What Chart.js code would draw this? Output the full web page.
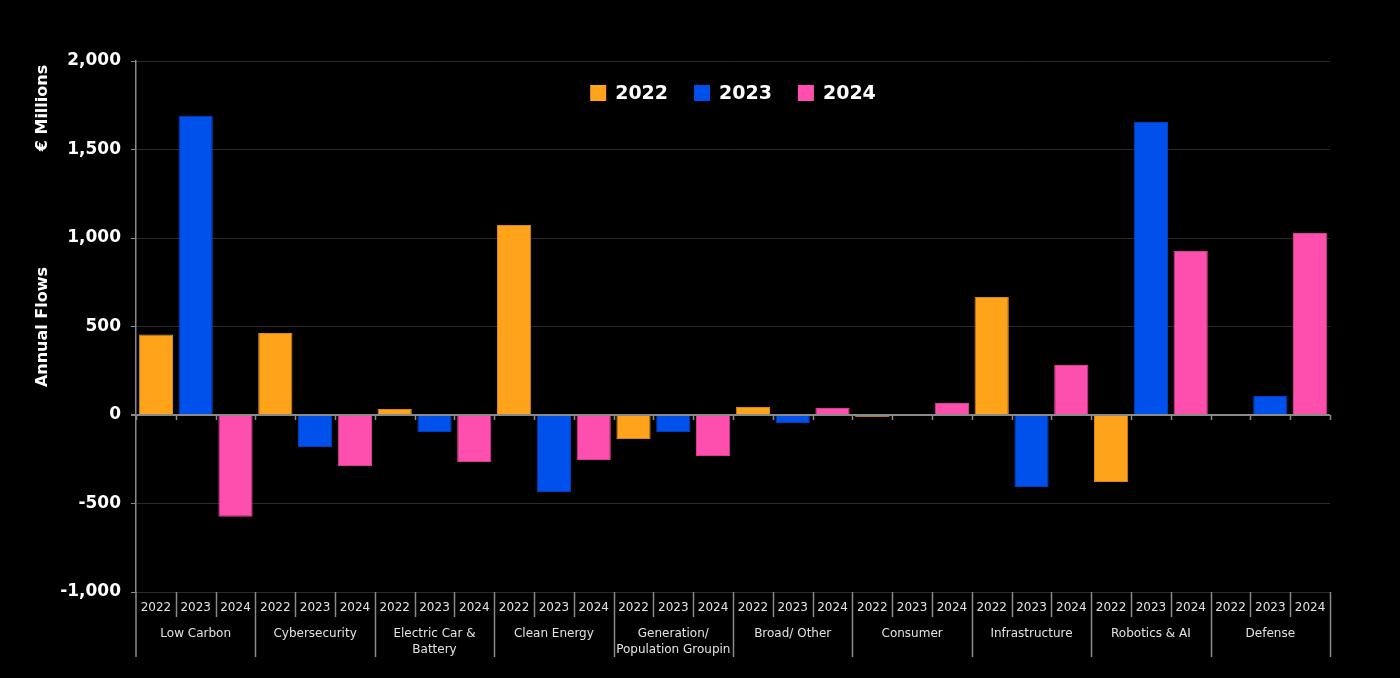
<!DOCTYPE html>
<html>
<head>
<meta charset="utf-8">
<script src="https://cdn.jsdelivr.net/npm/chart.js@4.4.1/dist/chart.umd.min.js"></script>
<style>
  html, body { margin: 0; padding: 0; background: #000; }
  canvas { display: block; }
</style>
</head>
<body>
<canvas id="flowsChart" width="1400" height="678"></canvas>
<script>
// categories and years
const groups = ['Low Carbon', 'Cybersecurity', ['Electric Car &', 'Battery'], 'Clean Energy',
    ['Generation/', 'Population Groupin'], 'Broad/ Other', 'Consumer', 'Infrastructure',
    'Robotics & AI', 'Defense'];
const years = ['2022', '2023', '2024'];

// annual flows, EUR millions, one value per group
const flows2022 = [455, 463, 34, 1073, -136, 45, -12, 667, -378, null];
const flows2023 = [1690, -181, -96, -435, -96, -45, 0, -407, 1655, 107];
const flows2024 = [-575, -288, -266, -254, -232, 40, 68, 282, 927, 1028];

const yTicks = { min: -1000, max: 2000, step: 500 };

const colors = ['#FFA31A', '#0050EC', '#FF4FAE'];
const borders = ['#D98A14', '#0040C0', '#D83F92'];

// each bar gets its own slot: group x year
const slotLabels = [];
groups.forEach(function() { years.forEach(function(y) { slotLabels.push(y); }); });

function spread(values, yearIndex) {
    const out = [];
    values.forEach(function(v) {
        for (let k = 0; k < years.length; k++) out.push(k === yearIndex ? v : null);
    });
    return out;
}

const series = [flows2022, flows2023, flows2024];
const datasets = series.map(function(vals, i) {
    return {
        label: years[i],
        data: spread(vals, i),
        backgroundColor: colors[i],
        borderColor: borders[i],
        borderWidth: 1,
        grouped: false,
        barPercentage: 0.86,
        categoryPercentage: 1
    };
});

const font = 'DejaVu Sans';
const axisGray = '#8a8a8a';

// draws the custom legend, axis titles and the multi-level separators
const decorations = {
    id: 'decorations',
    afterDraw(chart) {
        const ctx = chart.ctx;
        const area = chart.chartArea;
        const x = chart.scales.x;
        const y = chart.scales.y;
        const x2 = chart.scales.x2;
        const zero = y.getPixelForValue(0);
        const n = slotLabels.length;
        const slot = (x.right - x.left) / n;

        ctx.save();
        ctx.strokeStyle = axisGray;
        ctx.lineWidth = 1.5;
        for (let i = 0; i <= n; i++) {
            const px = Math.round(x.left + i * slot) + 0.5;
            // small ticks on the zero line
            ctx.beginPath();
            ctx.moveTo(px, zero);
            ctx.lineTo(px, zero + 5);
            ctx.stroke();
            if (i === 0) continue;
            ctx.beginPath();
            ctx.moveTo(px, area.bottom);
            ctx.lineTo(px, i % 3 === 0 ? x2.bottom : x.bottom);
            ctx.stroke();
        }
        // extend y axis line down through the label rows
        ctx.beginPath();
        ctx.moveTo(area.left, area.bottom);
        ctx.lineTo(area.left, x2.bottom);
        ctx.stroke();

        // axis titles
        ctx.fillStyle = '#fff';
        ctx.font = 'bold 16px ' + font;
        ctx.textAlign = 'center';
        ctx.textBaseline = 'middle';
        ctx.translate(43, 0);
        ctx.rotate(-Math.PI / 2);
        ctx.fillText('€ Millions', -108, 0);
        ctx.fillText('Annual Flows', -327, 0);
        ctx.restore();

        // legend inside the plot area
        ctx.save();
        ctx.font = 'bold 19px ' + font;
        ctx.textBaseline = 'middle';
        const box = 16, gap = 9, itemGap = 26;
        const widths = datasets.map(function(d) { return box + gap + ctx.measureText(d.label).width; });
        const total = widths.reduce(function(a, b) { return a + b; }, 0) + itemGap * (widths.length - 1);
        let lx = (area.left + area.right) / 2 - total / 2;
        const ly = 93;
        datasets.forEach(function(d, i) {
            ctx.fillStyle = d.backgroundColor;
            ctx.fillRect(lx, ly - box / 2, box, box);
            ctx.fillStyle = '#fff';
            ctx.fillText(d.label, lx + box + gap, ly + 1);
            lx += widths[i] + itemGap;
        });
        ctx.restore();
    }
};

new Chart(document.getElementById('flowsChart'), {
    type: 'bar',
    data: { labels: slotLabels, datasets: datasets },
    options: {
        responsive: false,
        animation: false,
        layout: { padding: { left: 0, right: 70, top: 61, bottom: 21 } },
        plugins: {
            legend: { display: false },
            tooltip: { enabled: false }
        },
        scales: {
            x: {
                position: 'bottom',
                weight: 0,
                grid: { display: false, drawTicks: false },
                border: { display: false },
                ticks: { color: '#e2e2e2', font: { family: font, size: 12 }, padding: 9, maxRotation: 0, autoSkip: false },
                afterFit: function(s) { s.height = 25; }
            },
            x2: {
                type: 'category',
                labels: groups,
                position: 'bottom',
                weight: 1,
                offset: true,
                grid: { display: false, drawTicks: false },
                border: { display: false },
                ticks: { color: '#e2e2e2', font: { family: font, size: 12, lineHeight: 1.3 }, padding: 9, maxRotation: 0, autoSkip: false },
                afterFit: function(s) { s.height = 40; }
            },
            y: {
                min: yTicks.min,
                max: yTicks.max,
                ticks: {
                    stepSize: yTicks.step,
                    color: '#fff',
                    font: { family: font, size: 17, weight: 'bold' },
                    padding: 10,
                    callback: function(v) { return v.toLocaleString('en-US'); }
                },
                grid: {
                    color: function(c) { return c.tick && c.tick.value === 0 ? axisGray : '#2a2a2a'; },
                    lineWidth: function(c) { return c.tick && c.tick.value === 0 ? 2 : 1; },
                    tickColor: axisGray,
                    tickLength: 5
                },
                border: { color: axisGray, width: 1.5 },
                afterFit: function(s) { s.width = 136; }
            }
        }
    },
    plugins: [decorations]
});
</script>
</body>
</html>
